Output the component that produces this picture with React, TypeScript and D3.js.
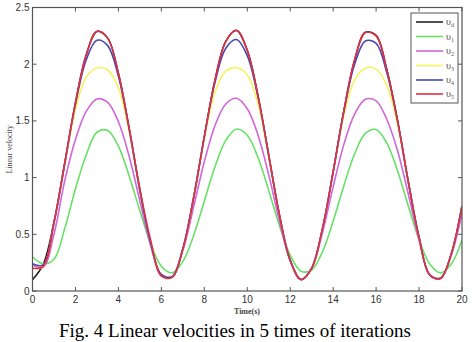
import React from "react";
import * as d3 from "d3";

const time = d3.range(0, 20.0001, 0.5);

const vd = [0.1, 0.235, 0.606, 1.122, 1.658, 2.081, 2.289, 2.23, 1.919, 1.432, 0.888, 0.421, 0.144, 0.126, 0.371, 0.819, 1.36, 1.862, 2.202, 2.297, 2.123, 1.723, 1.195, 0.668, 0.272, 0.102, 0.202, 0.546, 1.05, 1.591, 2.036, 2.281, 2.254, 1.952, 1.503, 0.964, 0.474, 0.142, 0.113, 0.325, 0.751];
const v1 = [0.3, 0.24, 0.28, 0.55, 0.9, 1.2, 1.4, 1.416, 1.277, 1.015, 0.708, 0.417, 0.219, 0.161, 0.259, 0.488, 0.792, 1.097, 1.328, 1.428, 1.374, 1.177, 0.887, 0.575, 0.316, 0.175, 0.185, 0.345, 0.615, 0.929, 1.21, 1.39, 1.424, 1.304, 1.059, 0.75, 0.452, 0.238, 0.16, 0.238, 0.452];
const v2 = [0.23, 0.21, 0.5, 0.971, 1.336, 1.584, 1.694, 1.664, 1.493, 1.189, 0.793, 0.402, 0.143, 0.126, 0.357, 0.739, 1.14, 1.46, 1.649, 1.699, 1.607, 1.376, 1.024, 0.615, 0.266, 0.102, 0.2, 0.512, 0.918, 1.293, 1.559, 1.69, 1.677, 1.512, 1.236, 0.853, 0.449, 0.142, 0.113, 0.315, 0.684];
const v3 = [0.2, 0.22, 0.6, 1.115, 1.599, 1.886, 1.967, 1.949, 1.791, 1.405, 0.886, 0.421, 0.144, 0.126, 0.371, 0.818, 1.34, 1.753, 1.939, 1.969, 1.906, 1.651, 1.185, 0.668, 0.272, 0.102, 0.202, 0.546, 1.045, 1.544, 1.862, 1.965, 1.957, 1.813, 1.468, 0.961, 0.474, 0.142, 0.113, 0.325, 0.75];
const v4 = [0.24, 0.23, 0.606, 1.122, 1.648, 2.038, 2.211, 2.164, 1.893, 1.428, 0.888, 0.421, 0.144, 0.126, 0.371, 0.819, 1.357, 1.841, 2.141, 2.218, 2.075, 1.71, 1.194, 0.668, 0.272, 0.102, 0.202, 0.546, 1.05, 1.583, 1.999, 2.205, 2.184, 1.924, 1.495, 0.964, 0.474, 0.142, 0.113, 0.325, 0.751];
const v5 = [0.2, 0.22, 0.6, 1.13, 1.66, 2.08, 2.29, 2.23, 1.92, 1.44, 0.9, 0.45, 0.13, 0.12, 0.37, 0.82, 1.36, 1.86, 2.2, 2.3, 2.12, 1.72, 1.2, 0.67, 0.27, 0.1, 0.2, 0.55, 1.05, 1.59, 2.04, 2.28, 2.25, 1.95, 1.5, 0.96, 0.47, 0.14, 0.11, 0.33, 0.75];

const xTicks = [0, 2, 4, 6, 8, 10, 12, 14, 16, 18, 20];
const yTicks = [0, 0.5, 1, 1.5, 2, 2.5];

const seriesNames = ["d", "1", "2", "3", "4", "5"];
const seriesData = [vd, v1, v2, v3, v4, v5];
const seriesColors = ["#2a2020", "#66e066", "#d066d8", "#f4f460", "#4848b0", "#e03048"];
const drawOrder = [0, 1, 2, 3, 4, 5];

const W = 474, H = 342;
const L = 32.5, R = 462, T = 7.5, B = 291;

export default function App() {
  const x = d3.scaleLinear().domain([0, 20]).range([L, R]);
  const y = d3.scaleLinear().domain([0, 2.5]).range([B, T]);
  const line = d3
    .line<number>()
    .x((_, i) => x(time[i]))
    .y((d) => y(d))
    .curve(d3.curveCatmullRom.alpha(0.5));

  const axisColor = "#555";
  const legendYs = [22, 36.5, 51, 65.5, 80, 94];

  return (
    <svg
      width={W}
      height={H}
      style={{ position: "absolute", left: 0, top: 0, background: "#fff" }}
      fontFamily="Arial, Liberation Sans, sans-serif"
    >
      <rect x={0} y={0} width={W} height={H} fill="#fff" />
      <defs>
        <clipPath id="plotclip">
          <rect x={L} y={T} width={R - L} height={B - T} />
        </clipPath>
      </defs>
      <g clipPath="url(#plotclip)">
        {drawOrder.map((k) => (
          <path
            key={k}
            d={line(seriesData[k]) || ""}
            fill="none"
            stroke={seriesColors[k]}
            strokeWidth={1.6}
            strokeLinejoin="round"
          />
        ))}
      </g>
      {/* box */}
      <rect x={L} y={T} width={R - L} height={B - T} fill="none" stroke={axisColor} strokeWidth={1.2} />
      {xTicks.map((t) => (
        <g key={"x" + t}>
          <line x1={x(t)} x2={x(t)} y1={B} y2={B - 4} stroke={axisColor} />
          <line x1={x(t)} x2={x(t)} y1={T} y2={T + 4} stroke={axisColor} />
          <text x={x(t)} y={B + 12} fontSize={10} textAnchor="middle" fill="#333">
            {t}
          </text>
        </g>
      ))}
      {yTicks.map((v) => (
        <g key={"y" + v}>
          <line x1={L} x2={L + 4} y1={y(v)} y2={y(v)} stroke={axisColor} />
          <line x1={R} x2={R - 4} y1={y(v)} y2={y(v)} stroke={axisColor} />
          <text x={L - 3} y={y(v) + 3.5} fontSize={10} textAnchor="end" fill="#333">
            {v}
          </text>
        </g>
      ))}
      <text x={247} y={314} fontSize={8} textAnchor="middle" fill="#444" fontFamily="Liberation Serif, serif" fontWeight="bold">
        Time(s)
      </text>
      <text
        transform={`translate(12,${(T + B) / 2}) rotate(-90)`}
        fontSize={8}
        textAnchor="middle"
        fill="#444"
        fontFamily="Liberation Serif, serif"
      >
        Linear velocity
      </text>
      {/* legend */}
      <rect x={411} y={13} width={47} height={90} fill="#fff" stroke={axisColor} strokeWidth={1} />
      {seriesNames.map((n, i) => (
        <g key={"lg" + n}>
          <line x1={416} x2={443} y1={legendYs[i]} y2={legendYs[i]} stroke={seriesColors[i]} strokeWidth={1.6} />
          <text x={446} y={legendYs[i] + 3} fontSize={10} fill="#555" fontFamily="Liberation Serif, serif">
            υ<tspan fontSize={6} dy={2}>{n}</tspan>
          </text>
        </g>
      ))}
      <text x={235} y={337} fontSize={19} textAnchor="middle" fill="#000" fontFamily="Liberation Serif, Times New Roman, serif">
        Fig. 4 Linear velocities in 5 times of iterations
      </text>
    </svg>
  );
}
